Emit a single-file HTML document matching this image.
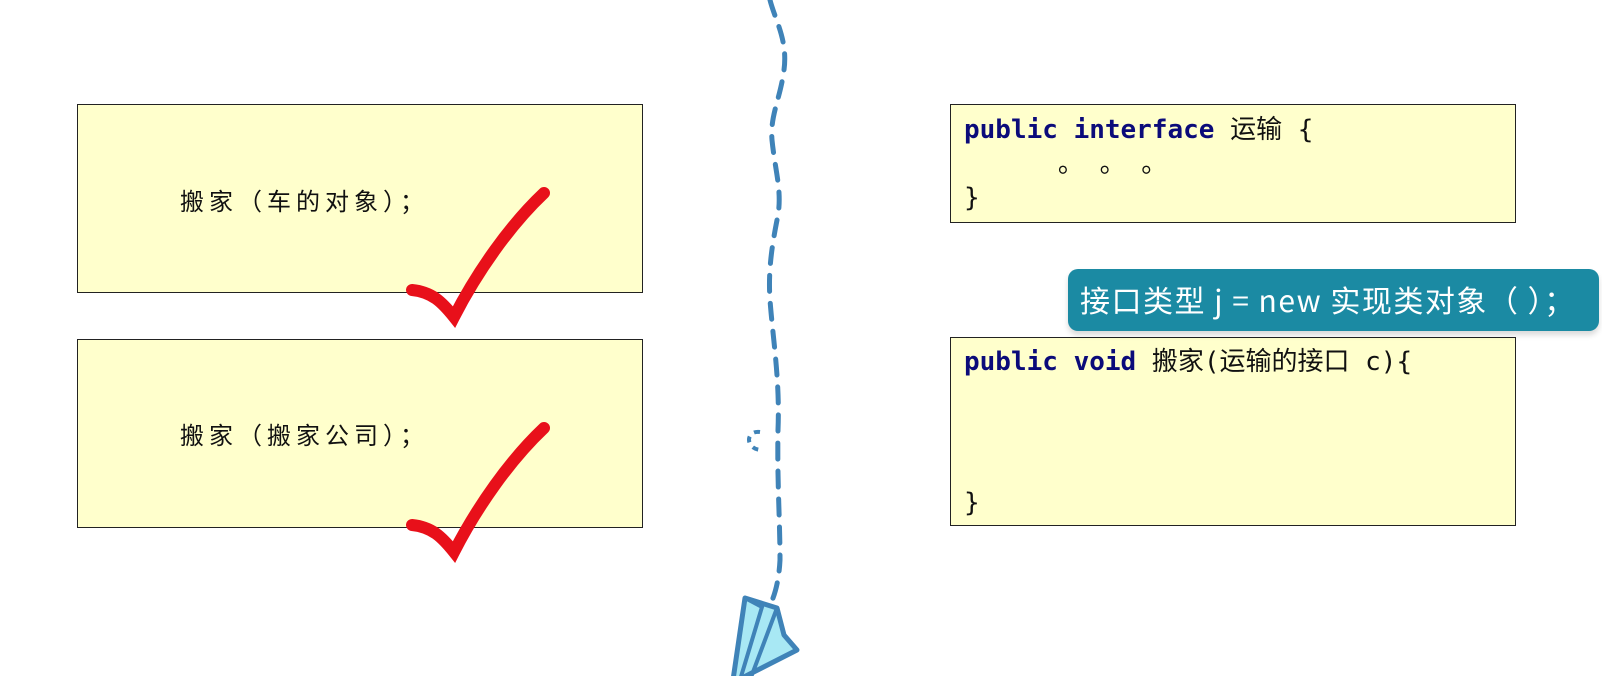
<!DOCTYPE html>
<html><head><meta charset="utf-8"><style>
body{margin:0;width:1602px;height:676px;background:#fff;position:relative;overflow:hidden;font-family:"Liberation Sans","Noto Sans CJK SC",sans-serif}
.box{position:absolute;background:#ffffcc;border:1.5px solid #222;box-sizing:border-box}
.lbl{position:absolute;font-family:"Noto Sans CJK SC",sans-serif;font-size:24px;color:#111;letter-spacing:5px}
.code{position:absolute;font-family:"DejaVu Sans Mono","Noto Sans CJK SC",monospace;font-size:26px;color:#111;white-space:pre;line-height:34px}
.kw{color:#0b0b7a;font-weight:bold}
.tip{position:absolute;left:1068px;top:269px;width:531px;height:62px;background:#1b8aa3;border-radius:10px;color:#fff;font-family:"Noto Sans CJK SC",sans-serif;font-size:30px;line-height:60px;padding-left:12px;box-sizing:border-box;box-shadow:0 4px 6px rgba(0,0,0,.15);white-space:pre;letter-spacing:1.5px}
</style></head><body>
<div class="box" style="left:77px;top:104px;width:566px;height:189px"></div>
<div class="lbl" style="left:180px;top:182px">搬家（车的对象）；</div>
<div class="box" style="left:77px;top:339px;width:566px;height:189px"></div>
<div class="lbl" style="left:180px;top:416px">搬家（搬家公司）；</div>
<div class="box" style="left:950px;top:104px;width:566px;height:119px"></div>
<div class="code" style="left:964px;top:113px"><span class="kw">public interface</span> 运输 {
      。 。 。
}</div>
<div class="box" style="left:950px;top:337px;width:566px;height:189px"></div>
<div class="code" style="left:964px;top:345px"><span class="kw">public void</span> 搬家(运输的接口 c){</div>
<div class="code" style="left:964px;top:486px">}</div>
<div class="tip">接口类型 j = new 实现类对象（ ）；</div>
<svg width="1602" height="676" style="position:absolute;left:0;top:0">
<path d="M770 0 C775 20 788 40 784 70 C780 100 770 115 772 140 C775 170 782 190 778 215 C772 245 768 270 770 300 C773 340 780 380 778 430 C777 480 780 520 780 560 C779 580 775 595 770 605" fill="none" stroke="#3f83b8" stroke-width="5" stroke-dasharray="16 12" stroke-linecap="round"/>
<path d="M760 432 C745 430 745 450 762 450" fill="none" stroke="#3f83b8" stroke-width="4" stroke-dasharray="6 6"/>
<path d="M745 598 L777 608 L784 635 L797 650 L738 680 L733 680 Z" fill="#a8e8f4" stroke="#3f83b8" stroke-width="5" stroke-linejoin="round"/>
<path d="M745 598 L762 607 L740 680 M777 608 L750 680" fill="none" stroke="#3f83b8" stroke-width="4"/>
<g fill="none" stroke="#e8101a" stroke-linecap="round">
<path d="M412 290 C432 292 442 302 454 317 C477 272 510 225 544 193" stroke-width="12"/>
<path d="M412 525 C432 527 442 537 454 552 C477 507 510 460 544 428" stroke-width="12"/>
</g>
</svg>
</body></html>
